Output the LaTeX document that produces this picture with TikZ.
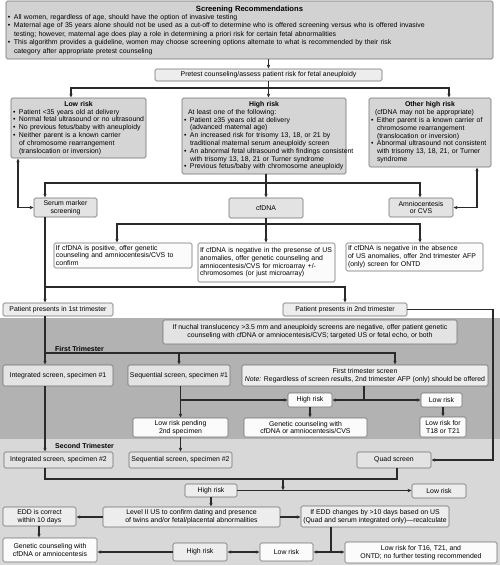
\documentclass[tikz,border=0pt]{standalone}
\usepackage{fontspec}
\setmainfont{Liberation Sans}
\usetikzlibrary{arrows.meta}
\definecolor{bordc}{HTML}{6F6F6F}
\definecolor{linc}{HTML}{2A2A2A}
\definecolor{gtop}{HTML}{D2D2D2}
\definecolor{grisk}{HTML}{D5D5D5}
\definecolor{gmid}{HTML}{E3E3E3}
\definecolor{glt}{HTML}{EDEDED}
\definecolor{gwh}{HTML}{FBFBFB}
\definecolor{regA}{HTML}{B2B2B2}
\definecolor{regB}{HTML}{D8D8D8}
\newcommand\bx[7]{\node[box,#1,align=center,minimum width={(#5-#3)*1pt},minimum height={(#6-#4)*1pt}] (#2) at ({(#3+#5)/2},{(#4+#6)/2}) {#7};}
\newcommand\lbx[7]{\pgfmathsetlengthmacro\mytw{(#5-#3)*1pt-4pt}\node[box,#1,align=left,inner xsep=2pt,text width=\mytw,minimum width={(#5-#3)*1pt},minimum height={(#6-#4)*1pt}] (#2) at ({(#3+#5)/2},{(#4+#6)/2}) {#7};}
\newcommand\bl[1]{\mbox{\makebox[6pt][l]{\textbullet}#1}}
\newcommand\cl[1]{\mbox{\hspace*{6pt}#1}}
\newcommand\ttl[1]{\makebox[\hsize][c]{\bfseries #1}}
\begin{document}
\begin{tikzpicture}[x=1pt,y=-1pt,
  font=\fontsize{6.9}{7.8}\selectfont,
  box/.style={draw=bordc, line width=0.6pt, rounded corners=1.5pt, inner xsep=1pt, inner ysep=1.5pt},
  con/.style={draw=linc, line width=1.25pt},
  arr/.style={con, -{Latex[length=3.8pt,width=3.6pt]}},
  arrb/.style={con, {Latex[length=3.8pt,width=3.6pt]}-{Latex[length=3.8pt,width=3.6pt]}},
  lab/.style={font=\fontsize{7}{8}\selectfont\bfseries, inner sep=0pt}]
\fill[white] (0,0) rectangle (500,566);
\useasboundingbox (0,0) rectangle (500,566);
\fill[regA] (0,318) rectangle (500,439);
\fill[regB] (0,439) rectangle (500,565);

% ---------- top part
\lbx{fill=gtop,font=\fontsize{6.9}{8.4}\selectfont}{top}{6}{1}{493}{59}{\ttl{\fontsize{7.6}{8.4}\selectfont Screening Recommendations}\\
\bl{All women, regardless of age, should have the option of invasive testing}\\
\bl{Maternal age of 35 years alone should not be used as a cut-off to determine who is offered screening versus who is offered invasive}\\
\cl{testing; however, maternal age does play a role in determining a priori risk for certain fetal abnormalities}\\
\bl{This algorithm provides a guideline, women may choose screening options alternate to what is recommended by their risk}\\
\cl{category after appropriate pretest counseling}}
\bx{fill=glt}{pre}{155}{69}{382}{81}{Pretest counseling/assess patient risk for fetal aneuploidy}
\lbx{fill=grisk}{low}{11}{98}{146}{158}{\ttl{Low risk}\\ \bl{Patient <35 years old at delivery}\\ \bl{Normal fetal ultrasound or no ultrasound}\\ \bl{No previous fetus/baby with aneuploidy}\\ \bl{Neither parent is a known carrier}\\ \cl{of chromosome rearrangement}\\ \cl{(translocation or inversion)}}
\lbx{fill=grisk}{high}{182}{98}{346}{174}{\ttl{High risk}\\ \mbox{\hspace*{4pt}At least one of the following:}\\ \bl{Patient ≥35 years old at delivery}\\ \cl{(advanced maternal age)}\\ \bl{An increased risk for trisomy 13, 18, or 21 by}\\ \cl{traditional maternal serum aneuploidy screen}\\ \bl{An abnormal fetal ultrasound with findings consistent}\\ \cl{with trisomy 13, 18, 21 or Turner syndrome}\\ \bl{Previous fetus/baby with chromosome aneuploidy}}
\lbx{fill=grisk}{other}{369}{98}{491}{167}{\ttl{Other high risk}\\ \mbox{\hspace*{4pt}(cfDNA may not be appropriate)}\\ \bl{Either parent is a known carrier of}\\ \cl{chromosome rearrangement}\\ \cl{(translocation or inversion)}\\ \bl{Abnormal ultrasound not consistent}\\ \cl{with trisomy 13, 18, 21, or Turner}\\ \cl{syndrome}}
\bx{fill=gmid}{serum}{34}{198}{97}{217}{Serum marker\\screening}
\bx{fill=gmid}{cfdna}{229}{198}{303}{218}{cfDNA}
\bx{fill=gmid}{amnio}{389}{198}{453}{217}{Amniocentesis\\or CVS}
\lbx{fill=gwh}{pos}{54}{243}{192}{268}{\mbox{If cfDNA is positive, offer genetic}\\\mbox{counseling and amniocentesis/CVS to}\\\mbox{confirm}}
\lbx{fill=gwh}{pres}{198}{243}{335}{282}{\mbox{If cfDNA is negative in the presense of US}\\\mbox{anomalies, offer genetic counseling and}\\\mbox{amniocentesis/CVS for microarray +/-}\\\mbox{chromosomes (or just microarray)}}
\lbx{fill=gwh}{abs}{346}{243}{483}{271}{\mbox{If cfDNA is negative in the absence}\\\mbox{of US anomalies, offer 2nd trimester AFP}\\\mbox{(only) screen for ONTD}}
\bx{fill=glt}{p1}{3}{303}{113}{316}{Patient presents in 1st trimester}
\bx{fill=glt}{p2}{283}{303}{407}{316}{Patient presents in 2nd trimester}

% ---------- first trimester
\bx{fill=gmid}{nuch}{163}{320}{457}{344}{If nuchal translucency >3.5 mm and aneuploidy screens are negative, offer patient genetic\\counseling with cfDNA or amniocentesis/CVS; targeted US or fetal echo, or both}
\bx{fill=gmid}{int1}{3}{365}{113}{386}{Integrated screen, specimen \#1}
\bx{fill=gmid}{seq1}{128}{365}{230}{386}{Sequential screen, specimen \#1}
\bx{fill=glt}{fts}{242}{365}{488}{386}{First trimester screen\\\textit{Note:} Regardless of screen results, 2nd trimester AFP (only) should be offered}
\bx{fill=gwh}{hr1}{288}{393}{332}{407}{High risk}
\bx{fill=gwh}{lr1}{421}{393}{462}{407}{Low risk}
\bx{fill=gwh}{lrp}{133}{418}{228}{437}{Low risk pending\\2nd specimen}
\bx{fill=gwh}{gc1}{244}{418}{367}{437}{Genetic counseling with\\cfDNA or amniocentesis/CVS}
\bx{fill=gwh}{lrt}{420}{417}{466}{437}{Low risk for\\T18 or T21}

% ---------- second trimester
\bx{fill=gmid}{int2}{4}{452}{113}{468}{Integrated screen, specimen \#2}
\bx{fill=gmid}{seq2}{129}{452}{232}{468}{Sequential screen, specimen \#2}
\bx{fill=gmid}{quad}{357}{452}{431}{468}{Quad screen}
\bx{fill=glt}{hr2}{185}{484}{237}{497}{High risk}
\bx{fill=glt}{lr2}{412}{484}{466}{498}{Low risk}
\bx{fill=glt}{lvl}{103}{507}{280}{527}{Level II US to confirm dating and presence\\of twins and/or fetal/placental abnormalities}
\bx{fill=glt}{eddc}{3}{507}{76}{526}{EDD is correct\\within 10 days}
\bx{fill=glt}{eddch}{301}{506}{449}{527}{If EDD changes by >10 days based on US\\(Quad and serum integrated only)—recalculate}
\bx{fill=gwh}{gc2}{3}{538}{97}{562}{Genetic counseling with\\cfDNA or amniocentesis}
\bx{fill=glt}{hr3}{173}{543}{227}{561}{High risk}
\bx{fill=gwh}{lr3}{260}{543}{313}{561}{Low risk}
\bx{fill=gwh}{lrf}{345}{542}{497}{563}{Low risk for T16, T21, and\\ONTD; no further testing recommended}

\node[lab, anchor=base west] (ftl) at (55,351) {First Trimester};
\node[lab, anchor=base west] (stl) at (55,448) {Second Trimester};

% ---------- connectors
\draw[arr] (top.south -| pre.north) -- (pre.north);
\draw[arr] (pre.south) -- (pre.south |- high.north);
\coordinate (j1) at (pre.south |- 0,88);
\draw[arr] (j1) -| (71,0 |- low.north);
\draw[arr] (j1) -| (449,0 |- other.north);

\coordinate (j2) at (cfdna.north |- 0,183);
\draw[arr] (high.south -| cfdna.north) -- (cfdna.north);
\draw[arr] (j2) -| (45,0 |- serum.north);
\draw[arr] (j2) -| (420,0 |- amnio.north);
\draw[arrb] (18,0 |- low.south) |- (serum.west);
\draw[arrb] (477,0 |- other.south) |- (amnio.east);

\coordinate (j3) at (cfdna.south |- 0,224);
\draw[arr] (cfdna.south) -- (cfdna.south |- pres.north);
\draw[arr] (j3) -| (117,0 |- pos.north);
\draw[arr] (j3) -| (420,0 |- abs.north);

\draw[arr] (45,0 |- serum.south) -- (45,0 |- p1.north);
\coordinate (j4) at (45,287);
\draw[arr] (j4) -| (p2.north);
\draw[arr] (p2.east) -| (493,0 |- quad.east) -- (quad.east);

\draw[arr] (45,0 |- p1.south) -- (45,0 |- int1.north);
\coordinate (j5) at (45,353);
\draw[arr] (j5) -| (seq1.north);
\draw[arr] (j5) -| (395,0 |- fts.north);

\draw[arr] (lrp.north |- seq1.south) -- (lrp.north);
\coordinate (j6) at (lrp.north |- hr1.west);
\draw[arr] (j6) -- (hr1.west);
\coordinate (j7) at (364,0 |- hr1.east);
\draw[con] (364,0 |- fts.south) -- (j7);
\draw[arr] (j7) -- (hr1.east);
\draw[arr] (j7) -- (lr1.west);
\draw[arr] (hr1.south) -- (hr1.south |- gc1.north);
\draw[arr] (lrt.north |- lr1.south) -- (lrt.north);
\draw[arr] (lrp.south) -- (lrp.south |- seq2.north);
\draw[arr] (45,0 |- int1.south) -- (45,0 |- int2.north);

\coordinate (j8) at (283,479);
\draw[con] (45,0 |- int2.south) |- (j8);
\draw[con] (397,0 |- quad.south) |- (j8);
\coordinate (j9) at (283,0 |- hr2.east);
\draw[arr] (j8) -- (j9);
\draw[arr] (hr2.east) -- (hr2.east -| lr2.west);
\draw[arr] (hr2.south) -- (hr2.south |- lvl.north);
\draw[arr] (lvl.west) -- (lvl.west -| eddc.east);
\draw[arr] (lvl.east) -- (lvl.east -| eddch.west);
\draw[arr] (39,0 |- eddc.south) -- (39,0 |- gc2.north);
\draw[arr] (hr3.west) -- (hr3.west -| gc2.east);
\draw[arrb] (hr3.east) -- (lr3.west);
\coordinate (j10) at (331,0 |- lr3.east);
\draw[con] (331,0 |- eddch.south) -- (j10);
\draw[arr] (j10) -- (lr3.east);
\draw[arr] (j10) -- (j10 -| lrf.west);
\end{tikzpicture}
\end{document}
